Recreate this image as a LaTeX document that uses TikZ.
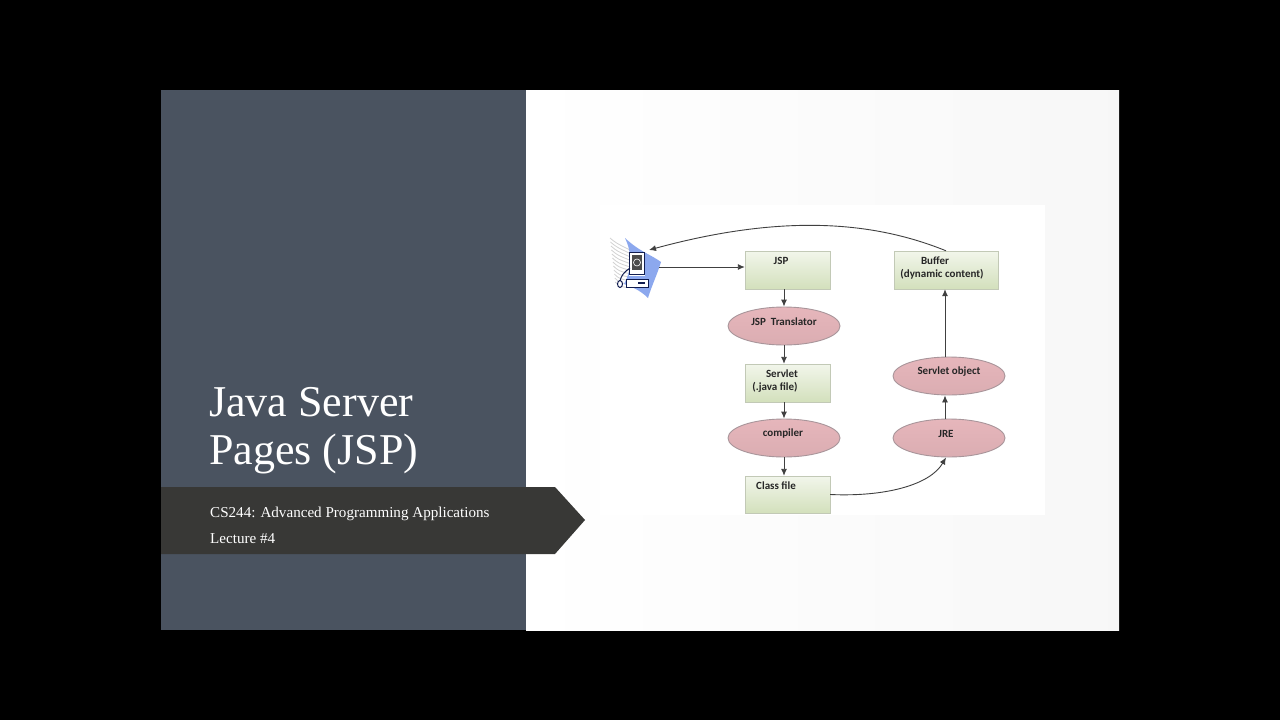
\documentclass[tikz,border=0pt]{standalone}
\usepackage{fontspec}
\setmainfont{Liberation Serif}
\newfontfamily\labelfont{Carlito}
\definecolor{slidegray}{HTML}{4A5360}
\definecolor{bannergray}{HTML}{383836}
\definecolor{boxgreen}{HTML}{D3E0BC}
\definecolor{boxedge}{HTML}{C2C9B6}
\definecolor{ovalpink}{HTML}{E6B6BB}
\definecolor{ovaledge}{HTML}{A8959A}
\definecolor{wavecolor}{HTML}{8CA8EE}
\definecolor{iconblue}{HTML}{101C50}
\tikzset{
  filebox/.style={draw=boxedge,top color=boxgreen!30!white,middle color=white,bottom color=boxgreen,minimum height=38pt,inner sep=0pt},
  ovalbox/.style={ellipse,draw=ovaledge,line width=.9pt,top color=ovalpink,middle color=ovalpink!60!white,bottom color=ovalpink!95!black,minimum width=112pt,minimum height=38pt,inner sep=0pt},
  boxlabel/.style={font=\labelfont\bfseries\fontsize{11}{12}\selectfont,text=black!85,inner sep=0pt},
  link/.style={draw=black!75,line width=.9pt,-{Latex[length=7pt,width=6pt]}},
  wavehatch/.style={draw=gray!35,line width=.8pt},
  iconline/.style={draw=iconblue,line width=1pt}
}
\usetikzlibrary{shapes.geometric,arrows.meta}
\begin{document}
\begin{tikzpicture}[x=1pt,y=-1pt]
\useasboundingbox (0,0) rectangle (1280,720);
\fill [black] (0,0) rectangle (1280,720);

% right panel and the white picture on it
\shade [left color=white,middle color=white,right color=black!3] (526,90) rectangle (1119,630);
\fill [white] (600,205) rectangle (1045,515);

% left panel
\fill [slidegray] (161,90) rectangle (526,630);
\fill [bannergray] (161,487) -- (555,487) -- (585,520) -- (555,554) -- (161,554) -- cycle;
\node (title) [anchor=west,text=white,align=left,inner sep=0pt,font=\fontsize{44}{48}\selectfont] at (209,431) {Java Server\\Pages (JSP)};
\node (course) [anchor=west,text=white,inner sep=0pt,font=\fontsize{15.1}{18}\selectfont] at (210,514) {CS244: Advanced Programming Applications};
\node (lecture) [anchor=west,text=white,inner sep=0pt,font=\fontsize{15.1}{18}\selectfont] at (210,539) {Lecture \#4};

% computer icon
\foreach \y in {0,4,...,44} {
  \draw [wavehatch] (610+\y*.12,238+\y) .. controls (616+\y*.1,243+\y) .. (630,250+\y*.85);
}
\fill [wavecolor] (625,238) .. controls (640,252) and (650,254) .. (661,262)
  .. controls (657,275) and (652,285) .. (648,298)
  .. controls (640,290) and (632,287) .. (624,284)
  .. controls (632,270) and (632,252) .. cycle;
\fill [white] (629,252) rectangle (645,276);
\draw [iconline] (629.5,252.5) rectangle (644.5,274.5);
\fill [black!70] (632,255) rectangle (642,270);
\draw [white,line width=.6pt] (637,262.5) circle [radius=3.5];
\fill [white] (626,279) rectangle (648,287);
\draw [iconline] (626,279) rectangle (648,287);
\fill [iconblue] (638,282) rectangle (645,284);
\draw [iconline] (630,268) .. controls (624,272) and (621,276) .. (620,281);
\draw [iconline,fill=white] (620,284) ellipse [x radius=2.5,y radius=3.5];
\coordinate (iconright) at (659,267);
\coordinate (icontop) at (649,250);

% boxes
\node (jsp) [filebox,minimum width=85pt] at (787.5,270) {};
\node (servlet) [filebox,minimum width=85pt] at (787.5,383) {};
\node (classfile) [filebox,minimum width=85pt,minimum height=37pt] at (787.5,494.5) {};
\node (buffer) [filebox,minimum width=104pt] at (946,270) {};
\node (translator) [ovalbox] at (784,326) {};
\node (compiler) [ovalbox] at (784,438) {};
\node (object) [ovalbox] at (949,376) {};
\node (jre) [ovalbox] at (949,438) {};

\node (jsplabel) [boxlabel] at (781,260.5) {JSP};
\node (translatorlabel) [boxlabel] at (784,321.5) {JSP\ \ Translator};
\node (servletlabel) [boxlabel] at (782,373.5) {Servlet};
\node (javalabel) [boxlabel] at (775,387.5) {(.java file)};
\node (compilerlabel) [boxlabel] at (783,434) {compiler};
\node (classlabel) [boxlabel] at (776,485.5) {Class file};
\node (bufferlabel) [boxlabel] at (935,261) {Buffer};
\node (dynamiclabel) [boxlabel] at (942,274.5) {(dynamic content)};
\node (objectlabel) [boxlabel] at (949,371.5) {Servlet object};
\node (jrelabel) [boxlabel] at (946,433.5) {JRE};

% connectors
\draw [link] (iconright) -- (jsp.west |- iconright);
\draw [link] (jsp.south -| translator) -- (translator.north);
\draw [link] (translator.south) -- (servlet.north -| translator);
\draw [link] (servlet.south -| compiler) -- (compiler.north);
\draw [link] (compiler.south) -- (classfile.north -| compiler);
\draw [link] (classfile.east) .. controls (885,497) and (930,485) .. (jre.south -| 946,0);
\draw [link] (jre.north -| 945,0) -- (object.south -| 945,0);
\draw [link] (object.north -| 945,0) -- (buffer.south -| 945,0);
\draw [link] (buffer.north) .. controls (875,222) and (785,213) .. (icontop);
\end{tikzpicture}
\end{document}
